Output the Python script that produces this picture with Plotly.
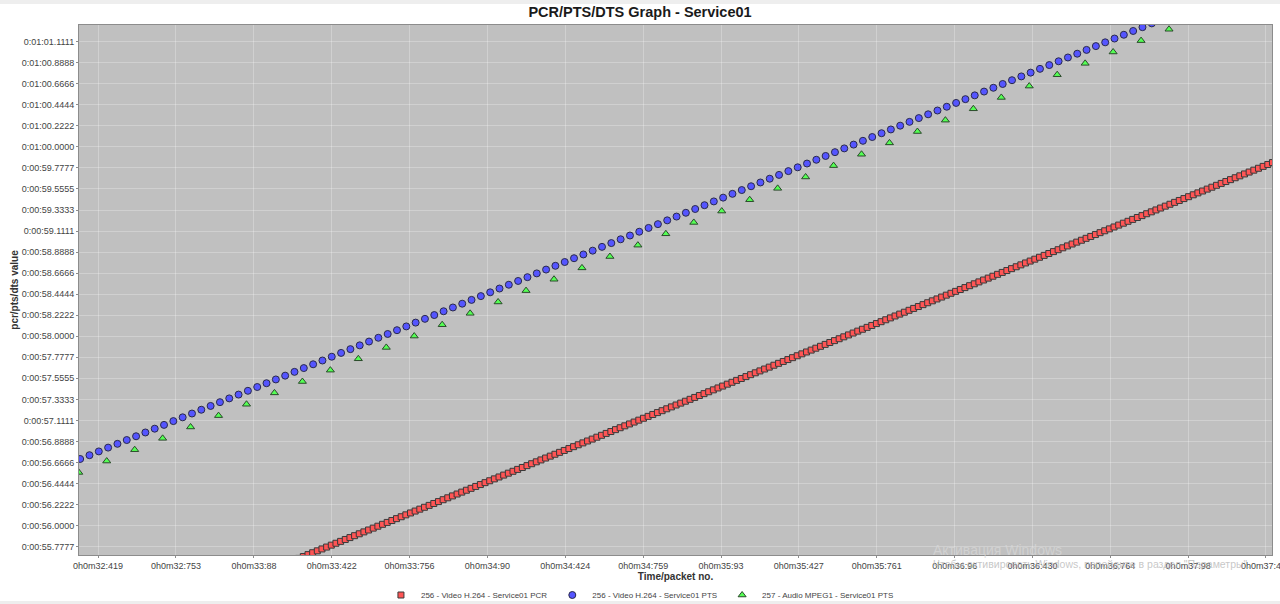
import plotly.graph_objects as go

# ---------------- data (milliseconds) ----------------
PCR_T_MS = [
    33280, 33300, 33320, 33340, 33360, 33380, 33400, 33420, 33440, 33460,
    33480, 33500, 33520, 33540, 33560, 33580, 33600, 33620, 33640, 33660,
    33680, 33700, 33720, 33740, 33760, 33780, 33800, 33820, 33840, 33860,
    33880, 33900, 33920, 33940, 33960, 33980, 34000, 34020, 34040, 34060,
    34080, 34100, 34120, 34140, 34160, 34180, 34200, 34220, 34240, 34260,
    34280, 34300, 34320, 34340, 34360, 34380, 34400, 34420, 34440, 34460,
    34480, 34500, 34520, 34540, 34560, 34580, 34600, 34620, 34640, 34660,
    34680, 34700, 34720, 34740, 34760, 34780, 34800, 34820, 34840, 34860,
    34880, 34900, 34920, 34940, 34960, 34980, 35000, 35020, 35040, 35060,
    35080, 35100, 35120, 35140, 35160, 35180, 35200, 35220, 35240, 35260,
    35280, 35300, 35320, 35340, 35360, 35380, 35400, 35420, 35440, 35460,
    35480, 35500, 35520, 35540, 35560, 35580, 35600, 35620, 35640, 35660,
    35680, 35700, 35720, 35740, 35760, 35780, 35800, 35820, 35840, 35860,
    35880, 35900, 35920, 35940, 35960, 35980, 36000, 36020, 36040, 36060,
    36080, 36100, 36120, 36140, 36160, 36180, 36200, 36220, 36240, 36260,
    36280, 36300, 36320, 36340, 36360, 36380, 36400, 36420, 36440, 36460,
    36480, 36500, 36520, 36540, 36560, 36580, 36600, 36620, 36640, 36660,
    36680, 36700, 36720, 36740, 36760, 36780, 36800, 36820, 36840, 36860,
    36880, 36900, 36920, 36940, 36960, 36980, 37000, 37020, 37040, 37060,
    37080, 37100, 37120, 37140, 37160, 37180, 37200, 37220, 37240, 37260,
    37280, 37300, 37320, 37340, 37360, 37380, 37400, 37420, 37440, 37460,
]
PCR_V_MS = [
    55654, 55674, 55694, 55714, 55734, 55754, 55774, 55794, 55814, 55834,
    55854, 55874, 55894, 55914, 55934, 55954, 55974, 55994, 56014, 56034,
    56054, 56074, 56094, 56114, 56134, 56154, 56174, 56194, 56214, 56234,
    56254, 56274, 56294, 56314, 56334, 56354, 56374, 56394, 56414, 56434,
    56454, 56474, 56494, 56514, 56534, 56554, 56574, 56594, 56614, 56634,
    56654, 56674, 56694, 56714, 56734, 56754, 56774, 56794, 56814, 56834,
    56854, 56874, 56894, 56914, 56934, 56954, 56974, 56994, 57014, 57034,
    57054, 57074, 57094, 57114, 57134, 57154, 57174, 57194, 57214, 57234,
    57254, 57274, 57294, 57314, 57334, 57354, 57374, 57394, 57414, 57434,
    57454, 57474, 57494, 57514, 57534, 57554, 57574, 57594, 57614, 57634,
    57654, 57674, 57694, 57714, 57734, 57754, 57774, 57794, 57814, 57834,
    57854, 57874, 57894, 57914, 57934, 57954, 57974, 57994, 58014, 58034,
    58054, 58074, 58094, 58114, 58134, 58154, 58174, 58194, 58214, 58234,
    58254, 58274, 58294, 58314, 58334, 58354, 58374, 58394, 58414, 58434,
    58454, 58474, 58494, 58514, 58534, 58554, 58574, 58594, 58614, 58634,
    58654, 58674, 58694, 58714, 58734, 58754, 58774, 58794, 58814, 58834,
    58854, 58874, 58894, 58914, 58934, 58954, 58974, 58994, 59014, 59034,
    59054, 59074, 59094, 59114, 59134, 59154, 59174, 59194, 59214, 59234,
    59254, 59274, 59294, 59314, 59334, 59354, 59374, 59394, 59414, 59434,
    59454, 59474, 59494, 59514, 59534, 59554, 59574, 59594, 59614, 59634,
    59654, 59674, 59694, 59714, 59734, 59754, 59774, 59794, 59814, 59834,
]

VIDEO_PTS_T_MS = [
    32342, 32382, 32422, 32462, 32502, 32542, 32582, 32622, 32662, 32702,
    32742, 32782, 32822, 32862, 32902, 32942, 32982, 33022, 33062, 33102,
    33142, 33182, 33222, 33262, 33302, 33342, 33382, 33422, 33462, 33502,
    33542, 33582, 33622, 33662, 33702, 33742, 33782, 33822, 33862, 33902,
    33942, 33982, 34022, 34062, 34102, 34142, 34182, 34222, 34262, 34302,
    34342, 34382, 34422, 34462, 34502, 34542, 34582, 34622, 34662, 34702,
    34742, 34782, 34822, 34862, 34902, 34942, 34982, 35022, 35062, 35102,
    35142, 35182, 35222, 35262, 35302, 35342, 35382, 35422, 35462, 35502,
    35542, 35582, 35622, 35662, 35702, 35742, 35782, 35822, 35862, 35902,
    35942, 35982, 36022, 36062, 36102, 36142, 36182, 36222, 36262, 36302,
    36342, 36382, 36422, 36462, 36502, 36542, 36582, 36622, 36662, 36702,
    36742, 36782, 36822, 36862, 36902, 36942,
]
VIDEO_PTS_V_MS = [
    56704, 56744, 56784, 56824, 56864, 56904, 56944, 56984, 57024, 57064,
    57104, 57144, 57184, 57224, 57264, 57304, 57344, 57384, 57424, 57464,
    57504, 57544, 57584, 57624, 57664, 57704, 57744, 57784, 57824, 57864,
    57904, 57944, 57984, 58024, 58064, 58104, 58144, 58184, 58224, 58264,
    58304, 58344, 58384, 58424, 58464, 58504, 58544, 58584, 58624, 58664,
    58704, 58744, 58784, 58824, 58864, 58904, 58944, 58984, 59024, 59064,
    59104, 59144, 59184, 59224, 59264, 59304, 59344, 59384, 59424, 59464,
    59504, 59544, 59584, 59624, 59664, 59704, 59744, 59784, 59824, 59864,
    59904, 59944, 59984, 60024, 60064, 60104, 60144, 60184, 60224, 60264,
    60304, 60344, 60384, 60424, 60464, 60504, 60544, 60584, 60624, 60664,
    60704, 60744, 60784, 60824, 60864, 60904, 60944, 60984, 61024, 61064,
    61104, 61144, 61184, 61224, 61264, 61304,
]

AUDIO_PTS_T_MS = [
    32336, 32456, 32576, 32696, 32816, 32936, 33056, 33176, 33296, 33416,
    33536, 33656, 33776, 33896, 34016, 34136, 34256, 34376, 34496, 34616,
    34736, 34856, 34976, 35096, 35216, 35336, 35456, 35576, 35696, 35816,
    35936, 36056, 36176, 36296, 36416, 36536, 36656, 36776, 36896, 37016,
]
AUDIO_PTS_V_MS = [
    56562, 56682, 56802, 56922, 57042, 57162, 57282, 57402, 57522, 57642,
    57762, 57882, 58002, 58122, 58242, 58362, 58482, 58602, 58722, 58842,
    58962, 59082, 59202, 59322, 59442, 59562, 59682, 59802, 59922, 60042,
    60162, 60282, 60402, 60522, 60642, 60762, 60882, 61002, 61122, 61242,
]

SERIES_NAMES = [
    "256 - Video H.264 - Service01 PCR",
    "256 - Video H.264 - Service01 PTS",
    "257 - Audio MPEG1 - Service01 PTS",
]

X_TICK_VALS = [32419, 32753, 33088, 33422, 33756, 34090, 34424, 34759,
               35093, 35427, 35761, 36096, 36430, 36764, 37098, 37432]
X_TICK_TEXT = ["0h0m32:419", "0h0m32:753", "0h0m33:88", "0h0m33:422",
               "0h0m33:756", "0h0m34:90", "0h0m34:424", "0h0m34:759",
               "0h0m35:93", "0h0m35:427", "0h0m35:761", "0h0m36:96",
               "0h0m36:430", "0h0m36:764", "0h0m37:98", "0h0m37:432"]

Y_TICK_VALS = [55777.78, 56000.0, 56222.22, 56444.44, 56666.67, 56888.89,
               57111.11, 57333.33, 57555.56, 57777.78, 58000.0, 58222.22,
               58444.44, 58666.67, 58888.89, 59111.11, 59333.33, 59555.56,
               59777.78, 60000.0, 60222.22, 60444.44, 60666.67, 60888.89,
               61111.11]
Y_TICK_TEXT = ["0:00:55.7777", "0:00:56.0000", "0:00:56.2222", "0:00:56.4444",
               "0:00:56.6666", "0:00:56.8888", "0:00:57.1111", "0:00:57.3333",
               "0:00:57.5555", "0:00:57.7777", "0:00:58.0000", "0:00:58.2222",
               "0:00:58.4444", "0:00:58.6666", "0:00:58.8888", "0:00:59.1111",
               "0:00:59.3333", "0:00:59.5555", "0:00:59.7777", "0:01:00.0000",
               "0:01:00.2222", "0:01:00.4444", "0:01:00.6666", "0:01:00.8888",
               "0:01:01.1111"]

# ---------------- figure ----------------
FONT = "Liberation Sans, Arial, sans-serif"
fig = go.Figure()

fig.add_trace(go.Scatter(
    x=PCR_T_MS, y=PCR_V_MS, mode="markers", name=SERIES_NAMES[0],
    marker=dict(symbol="square", size=6, color="#FF5555",
                line=dict(color="#3a3a3a", width=1)),
))
fig.add_trace(go.Scatter(
    x=VIDEO_PTS_T_MS, y=VIDEO_PTS_V_MS, mode="markers", name=SERIES_NAMES[1],
    marker=dict(symbol="circle", size=7, color="#5555FF",
                line=dict(color="#2a2a4a", width=1)),
))
fig.add_trace(go.Scatter(
    x=AUDIO_PTS_T_MS, y=AUDIO_PTS_V_MS, mode="markers", name=SERIES_NAMES[2],
    marker=dict(symbol="triangle-up", size=7, color="#55FF55",
                line=dict(color="#2a4a2a", width=1)),
))

fig.update_layout(
    width=1280, height=604,
    margin=dict(l=79, r=8, t=25, b=49, autoexpand=False),
    paper_bgcolor="white",
    plot_bgcolor="#C0C0C0",
    font=dict(family=FONT, size=9, color="#444444"),
    title=dict(text="<b>PCR/PTS/DTS Graph - Service01</b>",
               x=0.5, xanchor="center", xref="container",
               y=1 - 12 / 604, yanchor="middle",
               font=dict(family=FONT, size=14.5, color="#1a1a1a")),
    showlegend=True,
    legend=dict(orientation="h", x=0.4702, xanchor="center",
                y=-0.0755, yanchor="middle",
                font=dict(family=FONT, size=8, color="#444444"),
                bgcolor="rgba(0,0,0,0)", itemwidth=30, tracegroupgap=0),
)

fig.update_xaxes(
    range=[32337, 37458], tickmode="array",
    tickvals=X_TICK_VALS, ticktext=X_TICK_TEXT,
    showgrid=True, gridcolor="rgba(255,255,255,0.25)", gridwidth=1,
    zeroline=False, showline=True, mirror=True, linecolor="#8c8c8c",
    linewidth=1, ticks="outside", ticklen=2, tickcolor="#8c8c8c",
    tickfont=dict(family=FONT, size=9, color="#444444"),
    ticklabeloverflow="allow",
    automargin=False,
    title=dict(text="<b>Time/packet no.</b>", standoff=2,
               font=dict(family=FONT, size=10, color="#333333")),
)
fig.update_yaxes(
    range=[55690, 61287], tickmode="array",
    tickvals=Y_TICK_VALS, ticktext=Y_TICK_TEXT,
    showgrid=True, gridcolor="rgba(255,255,255,0.25)", gridwidth=1,
    zeroline=False, showline=True, mirror=True, linecolor="#8c8c8c",
    linewidth=1, ticks="outside", ticklen=2, tickcolor="#8c8c8c",
    tickfont=dict(family=FONT, size=9, color="#444444"),
    automargin=False,
    title=dict(text="<b>pcr/pts/dts value</b>", standoff=1,
               font=dict(family=FONT, size=10, color="#333333")),
)

# light strips at top and bottom of the window
fig.add_shape(type="rect", xref="paper", yref="paper",
              x0=-0.07, x1=1.01, y0=1 + 21 / 530, y1=1 + 26 / 530,
              fillcolor="#EEEEEE", line=dict(width=0), layer="below")
fig.add_shape(type="rect", xref="paper", yref="paper",
              x0=-0.07, x1=1.01, y0=-50 / 530, y1=-46 / 530,
              fillcolor="#EEEEEE", line=dict(width=0), layer="below")

# OS activation watermark visible on the screenshot
fig.add_annotation(text="Активация Windows", xref="paper", yref="paper",
                   x=(931 - 79) / 1193, y=(555 - 550) / 530,
                   xanchor="left", yanchor="middle", showarrow=False,
                   font=dict(family=FONT, size=14, color="rgba(215,215,215,0.75)"))
fig.add_annotation(text="Чтобы активировать Windows, перейдите в раздел \"Параметры\".",
                   xref="paper", yref="paper",
                   x=(931 - 79) / 1193, y=(555 - 564) / 530,
                   xanchor="left", yanchor="middle", showarrow=False,
                   font=dict(family=FONT, size=10.5, color="rgba(185,185,185,0.8)"))

fig.write_html("out.html",
               config={"displayModeBar": False},
               post_script="document.body.style.margin='0';document.body.style.overflow='hidden';")
